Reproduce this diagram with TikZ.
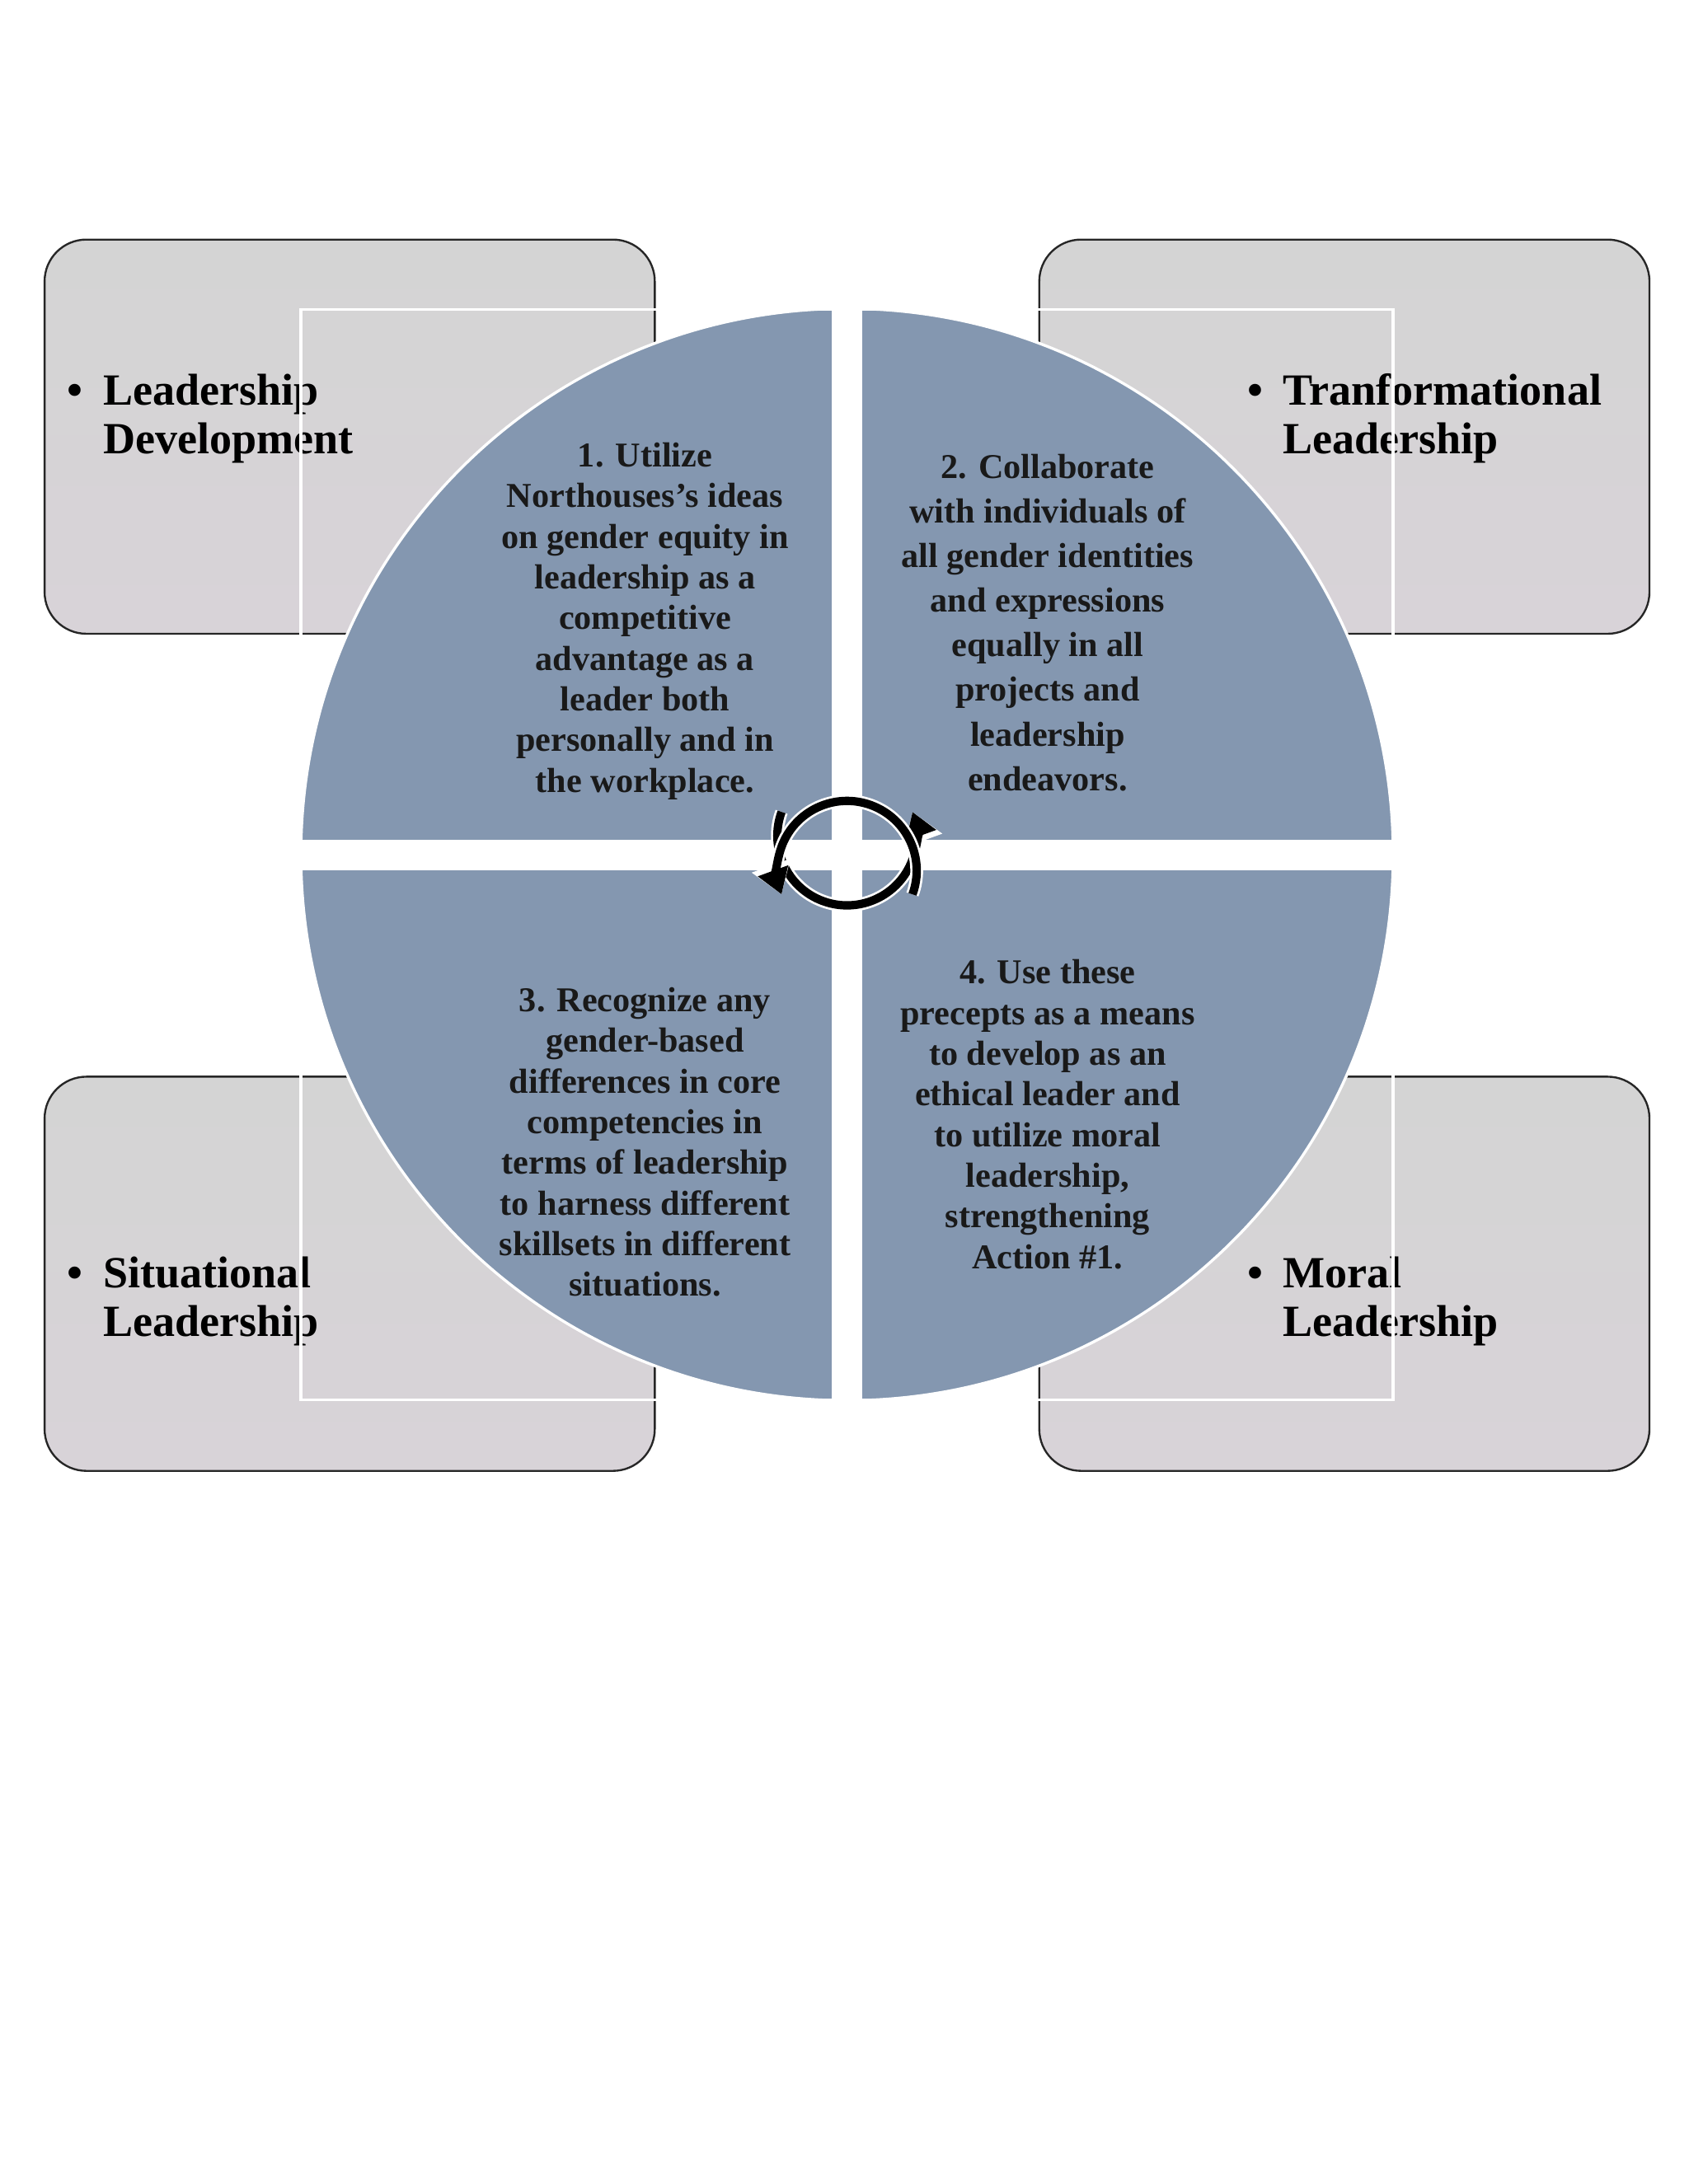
\documentclass[tikz,border=0pt]{standalone}
\usepackage{fontspec}
\setmainfont{Liberation Serif}
\usetikzlibrary{arrows.meta}
\definecolor{quad}{RGB}{132,151,176}
\definecolor{boxa}{RGB}{212,212,212}
\definecolor{boxb}{RGB}{216,211,216}
\tikzset{
 lbox/.style={draw=black!85,line width=0.7pt,rounded corners=15pt,top color=boxa,bottom color=boxb,minimum width=219pt,minimum height=141.5pt,inner sep=0pt},
 qtext/.style={align=center,font=\bfseries\fontsize{12.5pt}{14.6pt}\selectfont,text=black!90},
 btext/.style={align=left,font=\bfseries\fontsize{16pt}{17.5pt}\selectfont,anchor=north west,inner sep=0pt},
 carrow/.style={line width=3pt,-{Triangle[length=9pt,width=11pt]}},
 carrowbg/.style={line width=4.6pt,white,-{Triangle[length=11pt,width=14pt]}}
}
\begin{document}
\begin{tikzpicture}[x=0.5pt,y=-0.5pt]
\useasboundingbox[fill=white] (0,0) rectangle (1212,1568);
\node[lbox] (b1) at (251,313.5) {};
\node[lbox] (b2) at (965,313.5) {};
\node[lbox] (b3) at (251,914.5) {};
\node[lbox] (b4) at (965,914.5) {};
\node[btext] (t1) at (48,268) {•\hspace{0.45em}\parbox[t]{200pt}{Leadership\\Development}};
\node[btext] (t2) at (895,268) {•\hspace{0.45em}\parbox[t]{200pt}{Tranformational\\Leadership}};
\node[btext] (t3) at (48,902) {•\hspace{0.45em}\parbox[t]{200pt}{Situational\\Leadership}};
\node[btext] (t4) at (895,902) {•\hspace{0.45em}\parbox[t]{200pt}{Moral\\Leadership}};
% quadrants
\foreach \xa/\xb/\ya/\yb in {216/598/222/604, 618/1000/222/604, 216/598/624/1005, 618/1000/624/1005}{
 \begin{scope}
 \clip (\xa,\ya) rectangle (\xb,\yb);
 \fill[quad,draw=white,line width=1pt] (608,613.5) circle[radius=392];
 \end{scope}
 \draw[white,line width=1pt] (\xa,\ya) rectangle (\xb,\yb);
}
\node[qtext] (q1) at (463,446) {1. Utilize\\Northouses's ideas\\on gender equity in\\leadership as a\\competitive\\advantage as a\\leader both\\personally and in\\the workplace.};
\node[qtext,font=\bfseries\fontsize{12.5pt}{16pt}\selectfont] (q2) at (752,447) {2. Collaborate\\with individuals of\\all gender identities\\and expressions\\equally in all\\projects and\\leadership\\endeavors.};
\node[qtext] (q3) at (463,820) {3. Recognize any\\gender-based\\differences in core\\competencies in\\terms of leadership\\to harness different\\skillsets in different\\situations.};
\node[qtext] (q4) at (752,800) {4. Use these\\precepts as a means\\to develop as an\\ethical leader and\\to utilize moral\\leadership,\\strengthening\\Action \#1.};
% circular arrows
\coordinate (c1) at (608,600);
\coordinate (c2) at (608,625);
\draw[carrowbg] ([shift={(200:50)}]c1) arc[start angle=200,end angle=-20,radius=50];
\draw[carrow] ([shift={(200:50)}]c1) arc[start angle=200,end angle=-20,radius=50];
\draw[carrowbg] ([shift={(20:50)}]c2) arc[start angle=20,end angle=-200,radius=50];
\draw[carrow] ([shift={(20:50)}]c2) arc[start angle=20,end angle=-200,radius=50];
\end{tikzpicture}
\end{document}
